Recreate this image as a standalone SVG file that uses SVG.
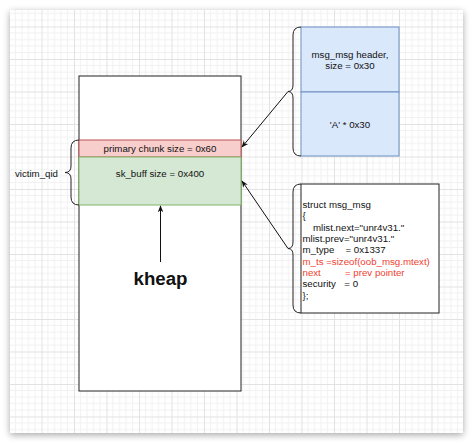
<svg xmlns="http://www.w3.org/2000/svg" width="474" height="443" viewBox="0 0 474 443">
<defs>
<filter id="sh" x="-10%" y="-10%" width="120%" height="120%">
<feDropShadow dx="0" dy="2" stdDeviation="3.5" flood-color="#000" flood-opacity="0.35"/>
</filter>
<pattern id="grid" patternUnits="userSpaceOnUse" x="9" y="-6" width="32.5" height="32.5">
<path d="M6.5,0V32.5M13,0V32.5M19.5,0V32.5M26,0V32.5M0,6.5H32.5M0,13H32.5M0,19.5H32.5M0,26H32.5" stroke="#f1f1f1" stroke-width="1" fill="none"/>
<path d="M0.5,0V32.5M0,0.5H32.5" stroke="#e2e2e2" stroke-width="1" fill="none"/>
</pattern>
<marker id="arr" viewBox="0 0 10 10" refX="9" refY="5" markerWidth="7" markerHeight="7" orient="auto" markerUnits="userSpaceOnUse">
<path d="M0,1 L10,5 L0,9 L3,5 z" fill="#111"/>
</marker>
<style>
.t{font-family:"Liberation Sans",Arial,Helvetica,sans-serif;font-size:9.7px;fill:#111}
.c{text-anchor:middle}
.red{fill:#f0402f}
.brace{fill:none;stroke:#222;stroke-width:1}
.edge{fill:none;stroke:#111;stroke-width:1}
</style>
</defs>
<rect x="0" y="0" width="474" height="443" fill="#fff"/>
<rect x="10" y="10" width="453" height="423" fill="#fff" filter="url(#sh)"/>
<rect x="10" y="10" width="453" height="423" fill="url(#grid)"/>

<g id="heap">
<rect x="79" y="76" width="162" height="315" fill="#fff" stroke="#222" stroke-width="1"/>
</g>
<g id="primary">
<rect x="79" y="140" width="162" height="17" fill="#f8cecc" stroke="#b85450" stroke-width="1"/>
<text class="t c" x="160" y="152">primary chunk size = 0x60</text>
</g>
<g id="skbuff">
<rect x="79" y="157" width="162" height="48" fill="#d5e8d4" stroke="#82b366" stroke-width="1"/>
<text class="t c" x="160" y="177">sk_buff size = 0x400</text>
</g>
<g id="victim">
<path class="brace" d="M79,140 Q71,140 71,148 L71,166 Q71,172.5 65,172.5 Q71,172.5 71,179 L71,197 Q71,205 79,205"/>
<text class="t" x="58" y="176.5" text-anchor="end">victim_qid</text>
</g>
<g id="kheap">
<text x="160.5" y="285" text-anchor="middle" style="font-family:'Liberation Sans',Arial,sans-serif;font-size:18.7px;font-weight:bold;fill:#111">kheap</text>
</g>
<g id="header">
<rect x="301" y="27" width="98" height="65" fill="#dae8fc" stroke="#6c8ebf" stroke-width="1"/>
<text class="t c" x="350" y="57.5">msg_msg header,</text>
<text class="t c" x="350" y="69">size = 0x30</text>
</g>
<g id="payload">
<rect x="301" y="92" width="98" height="64" fill="#dae8fc" stroke="#6c8ebf" stroke-width="1"/>
<text class="t c" x="350" y="127.5">'A' * 0x30</text>
</g>
<g id="msgbrace">
<path class="brace" d="M301,27 Q293,27 293,35 L293,85 Q293,91.5 288,91.5 Q293,91.5 293,98 L293,148 Q293,156 301,156"/>
</g>
<g id="struct">
<rect x="301" y="184" width="138" height="129" fill="#fff" stroke="#222" stroke-width="1"/>
<path class="brace" d="M301,184 Q293,184 293,192 L293,242 Q293,248.5 288,248.5 Q293,248.5 293,255 L293,305 Q293,313 301,313"/>
<text class="t" x="302.5" y="207.5">struct msg_msg</text>
<text class="t" x="302.5" y="219">{</text>
<text class="t" x="313" y="230.5">mlist.next="unr4v31."</text>
<text class="t" x="302.5" y="242">mlist.prev="unr4v31."</text>
<text class="t" x="302.5" y="253.3">m_type<tspan x="345.5">= 0x1337</tspan></text>
<text class="t red" x="302.5" y="264.7">m_ts =sizeof(oob_msg.mtext)</text>
<text class="t red" x="302.5" y="276">next<tspan x="345">= prev pointer</tspan></text>
<text class="t" x="302.5" y="287.3">security<tspan x="344.3">= 0</tspan></text>
<text class="t" x="302.5" y="298.6">};</text>
</g>
<g id="connectors">
<line class="edge" x1="288" y1="91.5" x2="242" y2="147" marker-end="url(#arr)"/>
<line class="edge" x1="288" y1="248.5" x2="242" y2="181" marker-end="url(#arr)"/>
<line class="edge" x1="160.5" y1="262" x2="160.5" y2="206" marker-end="url(#arr)"/>
</g>
</svg>
